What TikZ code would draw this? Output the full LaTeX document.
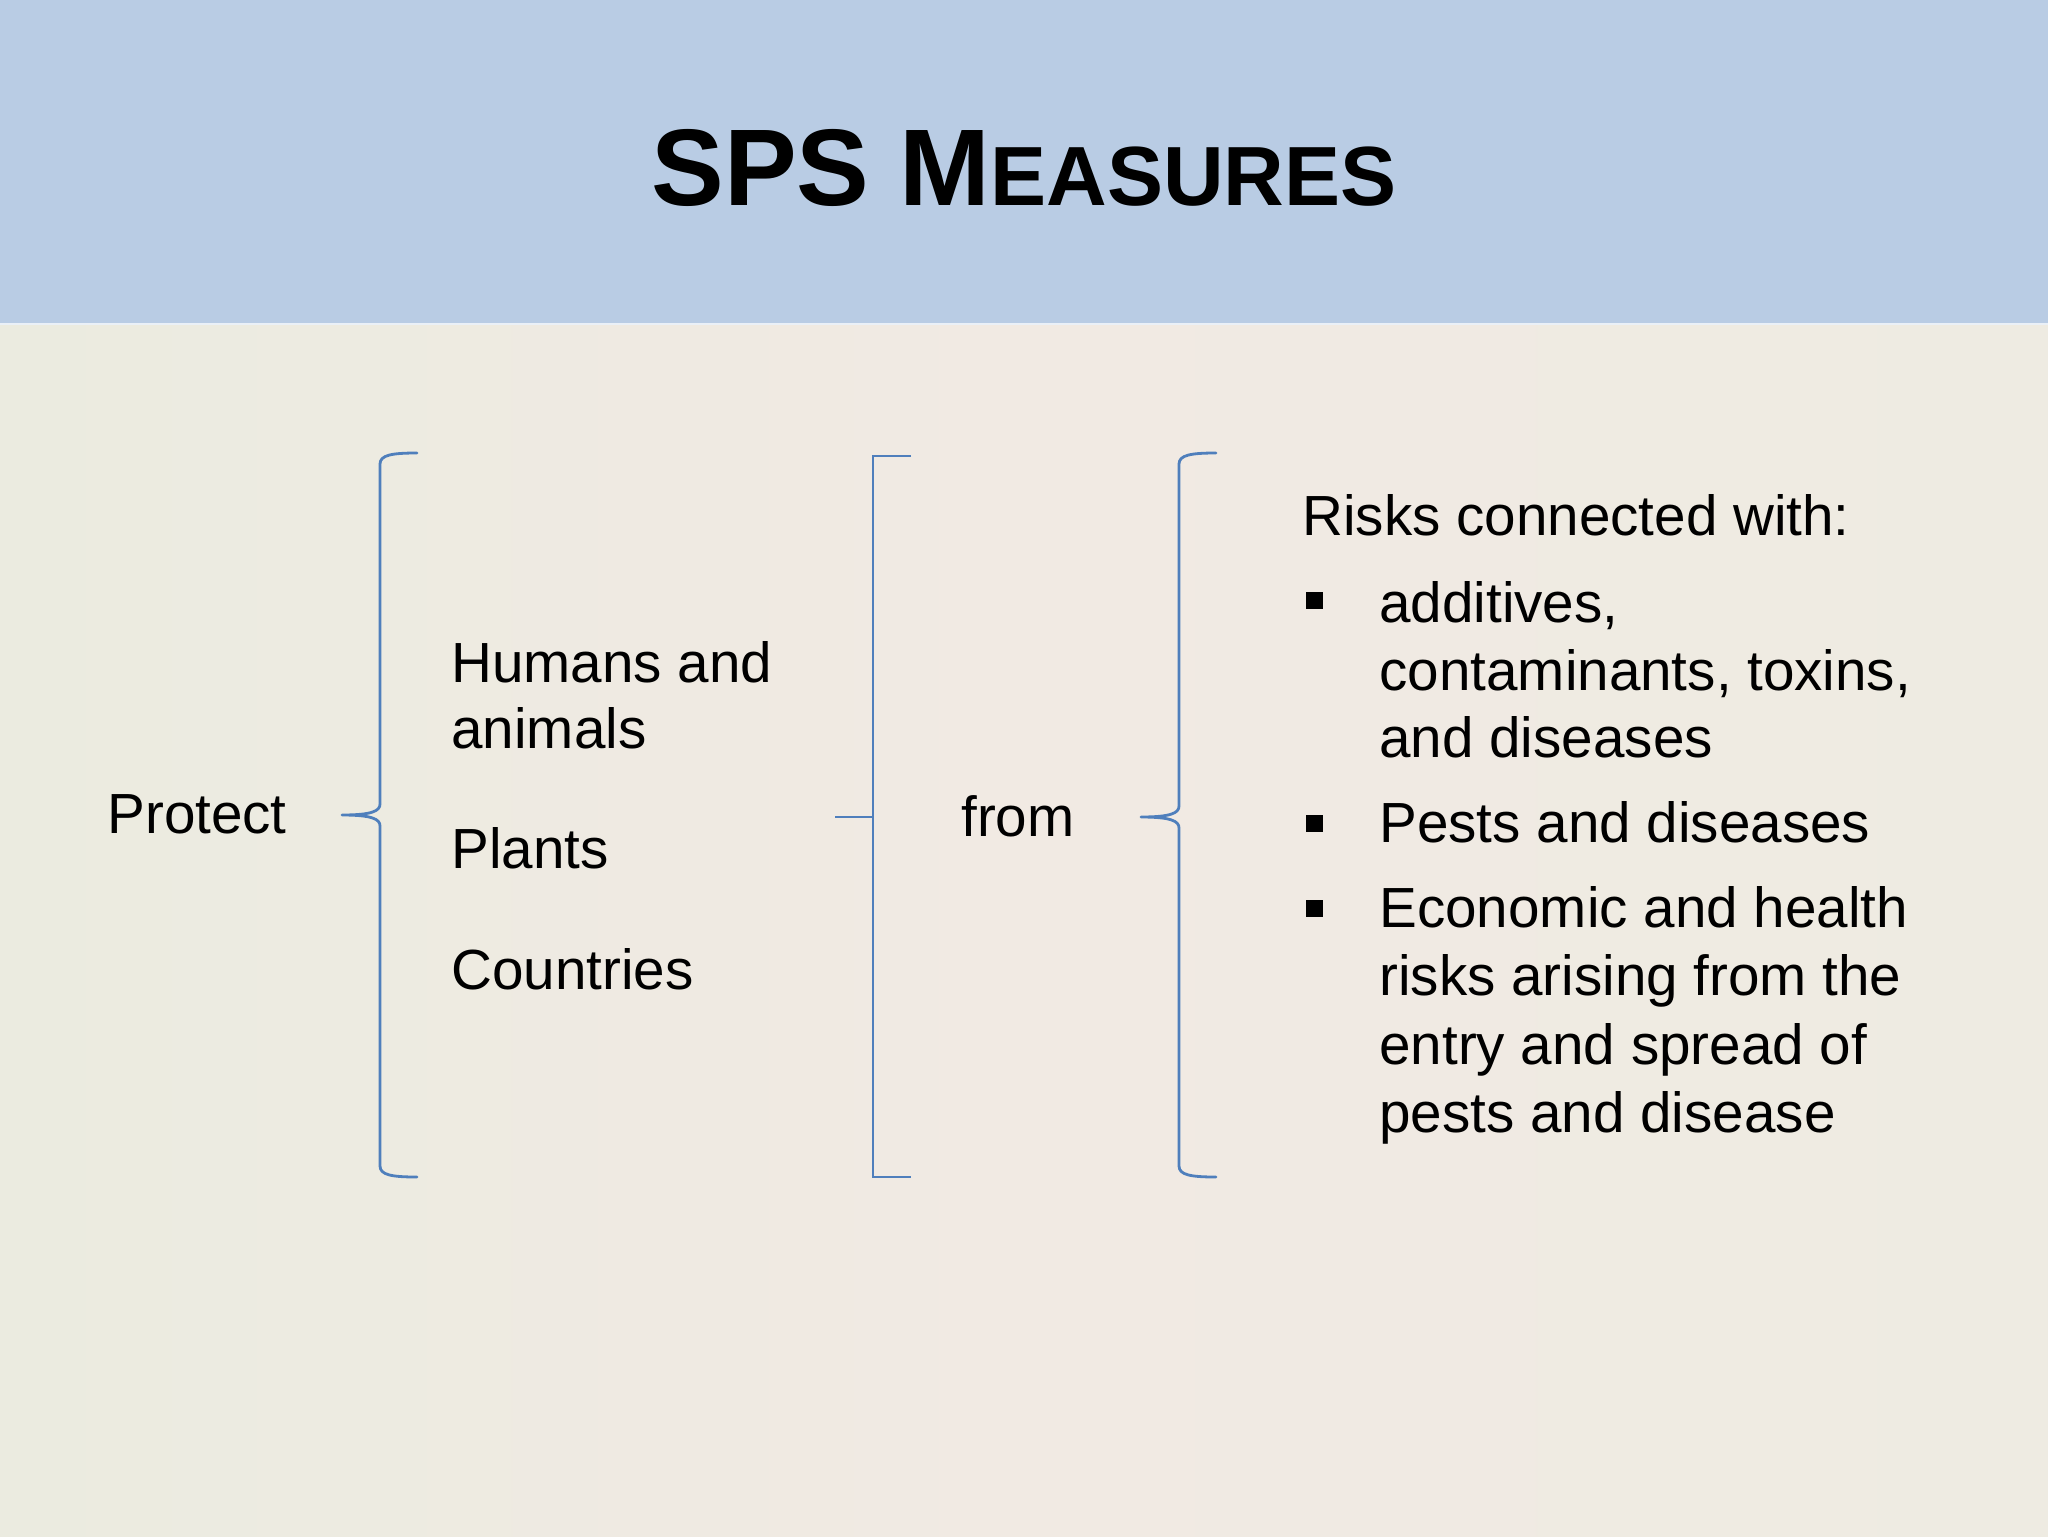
\documentclass[tikz,border=0pt]{standalone}
\usepackage{fontspec}
\setmainfont{Liberation Sans}
\definecolor{hdr}{HTML}{B9CCE4}
\definecolor{bodyL}{HTML}{EBEBE0}
\definecolor{bodyM}{HTML}{F1EAE3}
\definecolor{bodyR}{HTML}{EEEBE2}
\definecolor{brk}{HTML}{4F7FBC}
\begin{document}
\begin{tikzpicture}[x=0.5pt,y=-0.5pt,
  txt/.style={anchor=base west,inner sep=0pt,font=\fontsize{28.3}{34}\selectfont},
  bul/.style={fill=black,inner sep=0pt,minimum size=8.5pt},
  brace/.style={draw=brk,line width=1.4pt,line cap=round,line join=round}]
\useasboundingbox (0,0) rectangle (2048,1536);
\shade[left color=bodyL,right color=bodyR,middle color=bodyM] (0,324) rectangle (2048,1536);
\fill[hdr] (0,0) rectangle (2048,324);
\draw[white!70!hdr,line width=0.8pt] (0,324) -- (2048,324);
\node[anchor=base,inner sep=0pt,font=\fontsize{54.5}{60}\bfseries\selectfont] (title) at (1024,205) {SPS M{\fontsize{42}{42}\selectfont EASURES}};

\node[txt] (protect) at (107,833) {Protect};
\node[txt] (humans) at (451,682) {Humans and};
\node[txt] (animals) at (451,748) {animals};
\node[txt] (plants) at (451,868) {Plants};
\node[txt] (countries) at (451,989) {Countries};
\node[txt] (from) at (961,836) {from};
\node[txt] (risks) at (1302,535) {Risks connected with:};
\node[txt] (r1a) at (1379,622) {additives,};
\node[txt] (r1b) at (1379,690) {contaminants, toxins,};
\node[txt] (r1c) at (1379,757) {and diseases};
\node[txt] (r2) at (1379,842) {Pests and diseases};
\node[txt] (r3a) at (1379,927) {Economic and health};
\node[txt] (r3b) at (1379,995) {risks arising from the};
\node[txt] (r3c) at (1379,1064) {entry and spread of};
\node[txt] (r3d) at (1379,1132) {pests and disease};
\node[bul] (b1) at (1314,600) {};
\node[bul] (b2) at (1314,823) {};
\node[bul] (b3) at (1314,908) {};

% brace 1
\coordinate (t1) at (342,815);
\draw[brace] (417,453) .. controls (392,453) and (380,455) .. (380,464)
  -- (380,804) .. controls (380,811) and (372,815) .. (t1)
  .. controls (372,815) and (380,819) .. (380,826)
  -- (380,1166) .. controls (380,1175) and (392,1177) .. (417,1177);
% bracket 2
\coordinate (t2) at (835,817);
\draw[brace,line cap=butt,line join=miter] (911,456) -- (873,456) -- (873,1177) -- (911,1177);
\draw[brace,line cap=butt] (t2) -- (873,817);
% brace 3
\coordinate (t3) at (1141,817);
\draw[brace] (1216,453) .. controls (1191,453) and (1179,455) .. (1179,464)
  -- (1179,806) .. controls (1179,813) and (1171,817) .. (t3)
  .. controls (1171,817) and (1179,821) .. (1179,828)
  -- (1179,1166) .. controls (1179,1175) and (1191,1177) .. (1216,1177);
\end{tikzpicture}
\end{document}
